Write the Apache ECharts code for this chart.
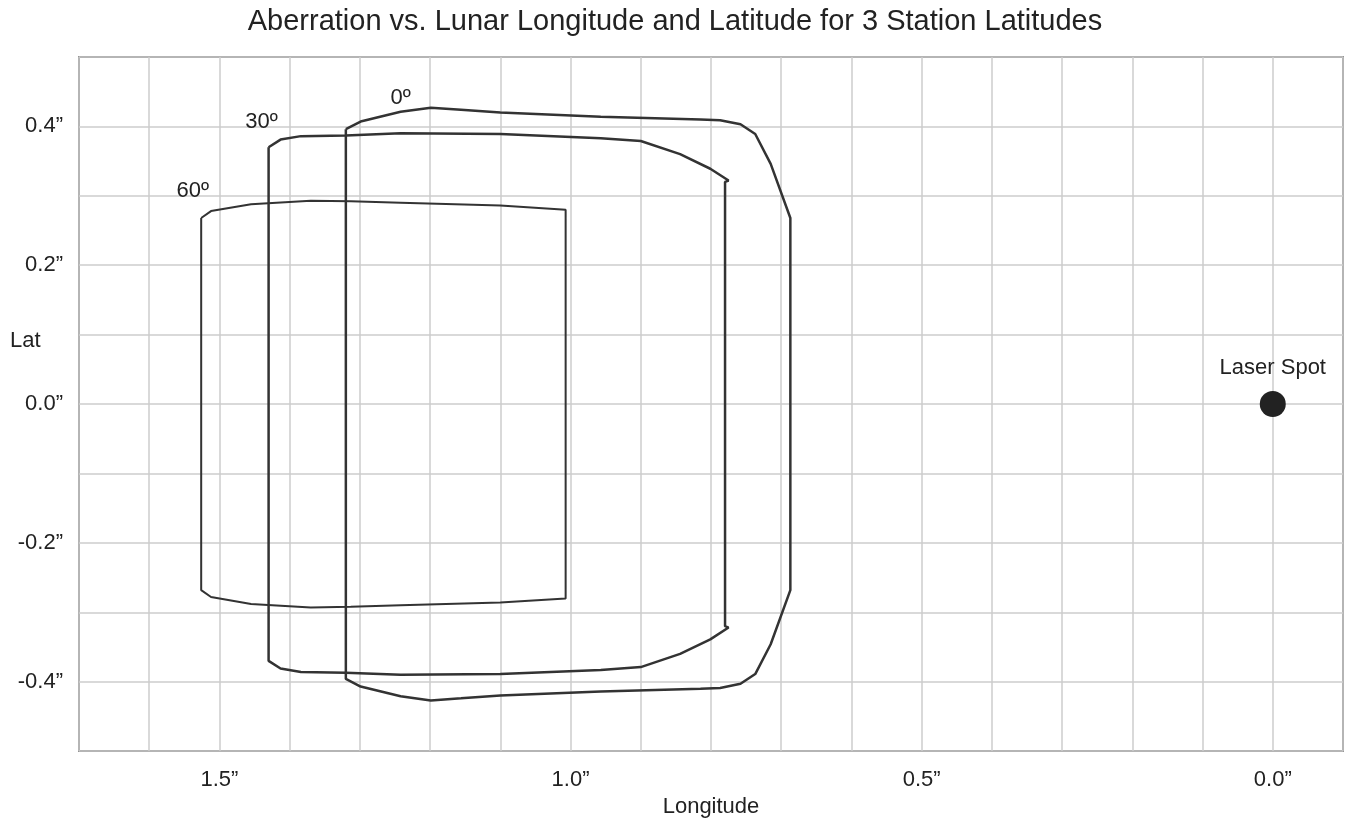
<!DOCTYPE html>
<html>
<head>
<meta charset="utf-8">
<script src="https://cdn.jsdelivr.net/npm/echarts@6/dist/echarts.min.js"></script>
<style>html,body{margin:0;padding:0;background:#fff}#chart{width:1350px;height:823px}</style>
</head>
<body>
<div id="chart"></div>
<script>
// top halves of the curves [longitude, latitude], mirrored below
var top0 = [[1.320,0.396],[1.299,0.407],[1.242,0.421],[1.199,0.427],[1.156,0.424],[1.100,0.420],[0.957,0.414],[0.815,0.410],[0.787,0.409],[0.758,0.403],[0.737,0.389],[0.715,0.346],[0.687,0.268]];
var top30 = [[1.430,0.370],[1.413,0.381],[1.384,0.386],[1.320,0.387],[1.242,0.390],[1.100,0.389],[0.957,0.383],[0.900,0.379],[0.844,0.360],[0.801,0.339],[0.775,0.322],[0.780,0.320]];
var top60 = [[1.526,0.268],[1.512,0.278],[1.455,0.288],[1.370,0.293],[1.313,0.292],[1.242,0.290],[1.100,0.286],[1.007,0.280]];
var curveLabels = [[1.242,0.441,'0º'],[1.44,0.407,'30º'],[1.538,0.307,'60º']];
var laserSpot = [[0,0]];

function closed(top) {
    var pts = top.slice();
    for (var i = top.length - 1; i >= 0; i--) pts.push([top[i][0], -top[i][1]]);
    pts.push(top[0]);
    return pts;
}

var chart = echarts.init(document.getElementById('chart'));
var lineStyle = {color: '#333', width: 2.5};
var txt = '#222';
chart.setOption({
    animation: false,
    title: {text: 'Aberration vs. Lunar Longitude and Latitude for 3 Station Latitudes', left: 'center', top: 2,
        textStyle: {fontSize: 29, fontWeight: 'normal', color: txt, fontFamily: 'Helvetica, Arial, sans-serif'}},
    grid: {left: 79, right: 7, top: 57, bottom: 64, show: true, borderColor: '#444', borderWidth: 1.5},
    xAxis: {type: 'value', inverse: true, min: -0.1, max: 1.7, interval: 0.1,
        name: 'Longitude', nameLocation: 'middle', nameGap: 42,
        nameTextStyle: {fontSize: 22, color: txt},
        axisLine: {show: false}, axisTick: {show: false},
        splitLine: {lineStyle: {color: '#ccc', width: 1.5}},
        axisLabel: {fontSize: 22, color: txt, margin: 18, formatter: function (v) {
            var r = Math.round(v * 10);
            return (r >= 0 && r % 5 === 0) ? (r / 10).toFixed(1) + '”' : '';
        }}},
    yAxis: {type: 'value', min: -0.5, max: 0.5, interval: 0.1,
        axisLine: {show: false}, axisTick: {show: false},
        splitLine: {lineStyle: {color: '#ccc', width: 1.5}},
        axisLabel: {fontSize: 22, color: txt, margin: 16, formatter: function (v) {
            var r = Math.round(v * 10);
            return (r % 2 === 0 && Math.abs(r) < 5) ? (r / 10).toFixed(1) + '”' : '';
        }}},
    graphic: [{type: 'text', left: 10, top: 330, style: {text: 'Lat', fontSize: 22, fill: txt}}],
    series: [
        {type: 'line', data: closed(top0), symbol: 'none', lineStyle: lineStyle},
        {type: 'line', data: closed(top30), symbol: 'none', lineStyle: lineStyle},
        {type: 'line', data: closed(top60), symbol: 'none', lineStyle: {color: '#333', width: 2}},
        {type: 'scatter', symbolSize: 0, data: curveLabels, itemStyle: {opacity: 1},
            label: {show: true, formatter: function (p) { return p.data[2]; }, fontSize: 22, color: txt}},
        {type: 'scatter', symbolSize: 26, itemStyle: {color: '#222', opacity: 1}, data: laserSpot,
            label: {show: true, position: 'top', distance: 12, formatter: 'Laser Spot', fontSize: 22, color: txt}}
    ]
});
</script>
</body>
</html>
